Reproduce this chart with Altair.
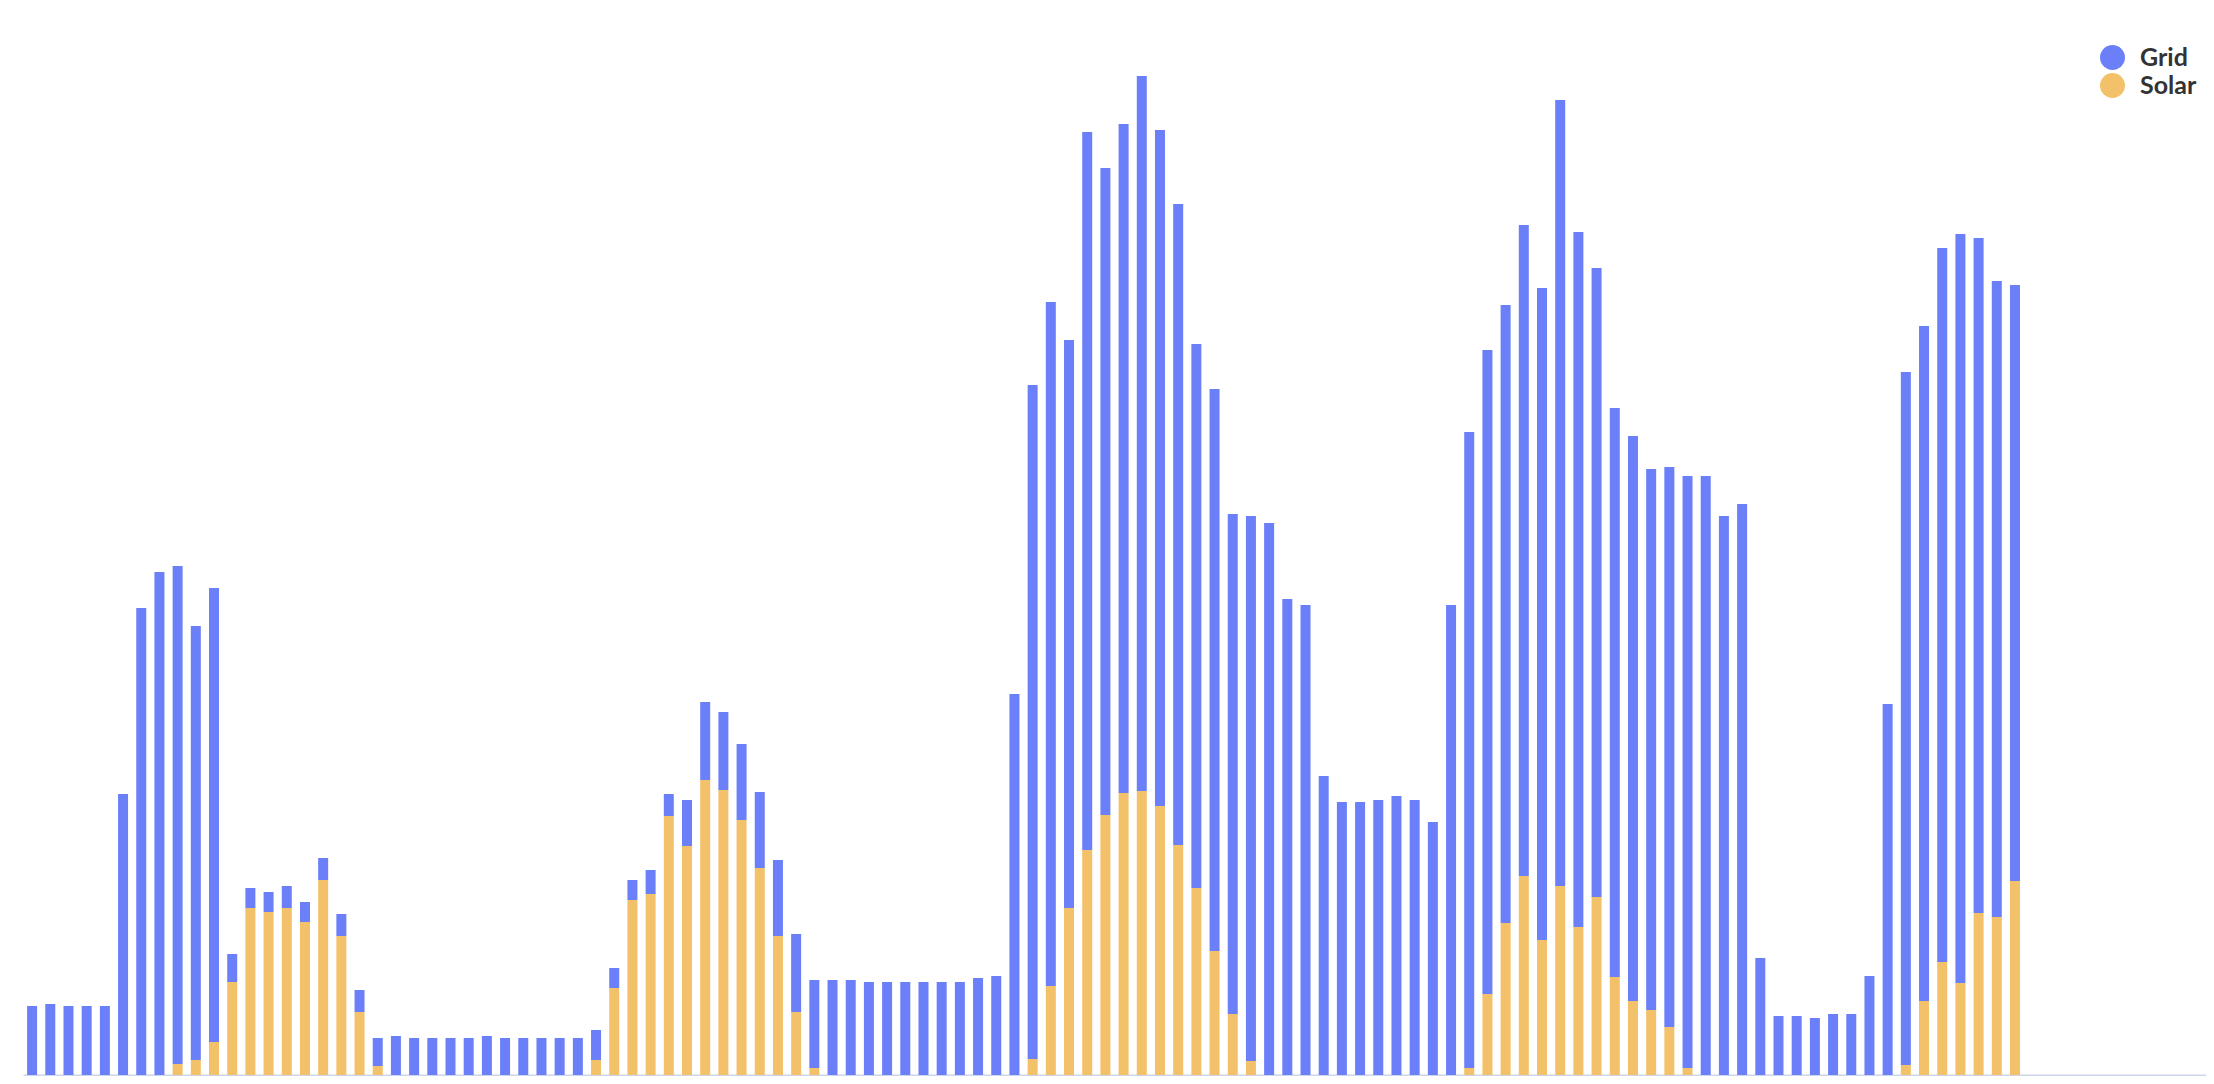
import altair as alt
import pandas as pd

# hourly slots (5 days x 24 h); data present for the first 110
hours = list(range(120))

grid = [0.69, 0.71, 0.69, 0.69, 0.69, 2.81, 4.67, 5.03, 4.98, 4.34,
        4.54, 0.28, 0.20, 0.20, 0.22, 0.20, 0.22, 0.22, 0.22, 0.28,
        0.39, 0.37, 0.37, 0.37, 0.37, 0.39, 0.37, 0.37, 0.37, 0.37,
        0.37, 0.30, 0.20, 0.20, 0.24, 0.22, 0.46, 0.78, 0.78, 0.76,
        0.76, 0.76, 0.78, 0.88, 0.95, 0.95, 0.93, 0.93, 0.93, 0.93,
        0.93, 0.93, 0.97, 0.99, 3.81, 6.74, 6.84, 5.68, 7.18, 6.47,
        6.69, 7.15, 6.76, 6.41, 5.44, 5.62, 5.00, 5.45, 5.52, 4.76,
        4.70, 2.99, 2.73, 2.73, 2.75, 2.79, 2.75, 2.53, 4.70, 6.36,
        6.44, 6.18, 6.51, 6.52, 7.86, 6.95, 6.29, 5.69, 5.65, 5.41,
        5.60, 5.92, 5.99, 5.59, 5.71, 1.17, 0.59, 0.59, 0.57, 0.61,
        0.61, 0.99, 3.71, 6.93, 6.75, 7.14, 7.49, 6.75, 6.36, 5.96]

solar = [0, 0, 0, 0, 0, 0, 0, 0, 0.11, 0.15,
         0.33, 0.93, 1.67, 1.63, 1.67, 1.53, 1.95, 1.39, 0.63, 0.09,
         0, 0, 0, 0, 0, 0, 0, 0, 0, 0,
         0, 0.15, 0.87, 1.75, 1.81, 2.59, 2.29, 2.95, 2.85, 2.55,
         2.07, 1.39, 0.63, 0.07, 0, 0, 0, 0, 0, 0,
         0, 0, 0, 0, 0, 0.16, 0.89, 1.67, 2.25, 2.60,
         2.82, 2.84, 2.69, 2.30, 1.87, 1.24, 0.61, 0.14, 0, 0,
         0, 0, 0, 0, 0, 0, 0, 0, 0, 0.07,
         0.81, 1.52, 1.99, 1.35, 1.89, 1.48, 1.78, 0.98, 0.74, 0.65,
         0.48, 0.07, 0, 0, 0, 0, 0, 0, 0, 0,
         0, 0, 0, 0.10, 0.74, 1.13, 0.92, 1.62, 1.58, 1.94]

series = ["Grid", "Solar"]
colors = ["#6b80f8", "#f4c16b"]

rows = []
for i, (g, s) in enumerate(zip(grid, solar)):
    rows.append({"hour": hours[i], "source": "Solar", "value": s, "ord": 0})
    rows.append({"hour": hours[i], "source": "Grid", "value": g, "ord": 1})
df = pd.DataFrame(rows)

axis_color = "#cdd6ea"

chart = (
    alt.Chart(df)
    .mark_bar()
    .encode(
        x=alt.X(
            "hour:O",
            scale=alt.Scale(domain=hours, paddingInner=0.45, paddingOuter=0.225),
            axis=alt.Axis(
                values=hours[::3],
                labels=False,
                title=None,
                grid=False,
                ticks=True,
                tickColor=axis_color,
                tickWidth=2,
                tickSize=6,
                domainColor=axis_color,
                domainWidth=2,
            ),
        ),
        y=alt.Y(
            "value:Q",
            stack="zero",
            scale=alt.Scale(domain=[0, 10.67], nice=False),
            axis=None,
        ),
        color=alt.Color(
            "source:N",
            scale=alt.Scale(domain=series, range=colors),
            legend=alt.Legend(
                title=None,
                orient="none",
                legendX=2077,
                legendY=37,
                symbolType="circle",
                symbolSize=625,
                symbolStrokeWidth=0,
                symbolOpacity=1,
                labelFont="Lato",
                labelFontSize=25,
                labelFontWeight="bold",
                labelColor="#333333",
                labelOffset=15,
                rowPadding=2,
                padding=0,
            ),
        ),
        order=alt.Order("ord:Q", sort="ascending"),
    )
    .properties(
        width=2183,
        height=1067,
        padding={"left": 15, "top": 0, "right": 0, "bottom": 1},
        autosize=alt.AutoSizeParams(type="none"),
    )
    .configure_view(stroke=None)
)

chart.save("out.html", embed_options={"renderer": "svg", "actions": False})
